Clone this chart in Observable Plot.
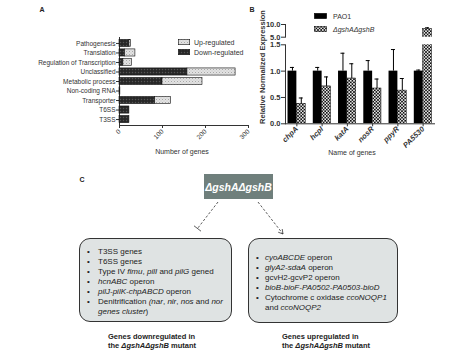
<!DOCTYPE html>
<html>
<head>
<meta charset="utf-8">
<script src="https://cdn.jsdelivr.net/npm/d3@7"></script>
<script src="https://cdn.jsdelivr.net/npm/@observablehq/plot@0.6"></script>
<style>
  html, body { margin: 0; padding: 0; background: #fff; }
  #fig { position: relative; width: 474px; height: 358px; overflow: hidden; background: #fff;
         font-family: "Liberation Sans", Arial, sans-serif; color: #222; }
  .abs { position: absolute; }
  .plotwrap svg { overflow: visible; }
  .lab { position: absolute; font-weight: bold; font-size: 7px; transform: translate(-50%, -50%); }
  .ttl { position: absolute; font-size: 7px; transform: translate(-50%, -50%); white-space: nowrap; color: #333; }
  .leg { position: absolute; font-size: 7px; white-space: nowrap; color: #333; display: flex; align-items: center; }
  .leg svg { margin-right: 4px; }
  #pb svg g[aria-label="x-axis tick label"] text { font-style: italic; font-weight: bold; }
  #pb svg g[aria-label="y-axis tick label"] text, #pbu svg g[aria-label="y-axis tick label"] text { font-weight: bold; }
  .box { position: absolute; border: 1px solid #333; border-radius: 11px; background: #dfe3e3; box-sizing: border-box; }
  .list { position: absolute; font-size: 8px; line-height: 10px; white-space: nowrap; color: #222; }
  .li { position: relative; }
  .bul { position: absolute; }
  .cap { position: absolute; font-size: 7.5px; line-height: 9px; font-weight: bold; white-space: nowrap; color: #222; }
  .top { position: absolute; left: 204px; top: 174px; width: 69px; height: 25px; background: #6f7f7c;
         color: #fff; font-weight: bold; font-style: italic; font-size: 10.5px;
         display: flex; align-items: center; justify-content: center; }
</style>
</head>
<body>
<svg width="0" height="0" style="position:absolute">
  <defs>
    <pattern id="pa-dark" width="3" height="3" patternUnits="userSpaceOnUse">
      <rect width="3" height="3" fill="#2e2e2e"/>
      <rect x="0" y="0" width="1" height="1" fill="#555"/>
      <rect x="1.5" y="1.5" width="1" height="1" fill="#111"/>
    </pattern>
    <pattern id="pa-light" width="3" height="3" patternUnits="userSpaceOnUse">
      <rect width="3" height="3" fill="#e2e2e2"/>
      <rect x="0" y="0" width="1" height="1" fill="#a8a8a8"/>
      <rect x="1.5" y="1.5" width="1" height="1" fill="#c4c4c4"/>
    </pattern>
    <pattern id="pb-check" width="3.2" height="3.2" patternUnits="userSpaceOnUse">
      <rect width="3.2" height="3.2" fill="#e8e8e8"/>
      <rect x="0" y="0" width="1.6" height="1.6" fill="#111"/>
      <rect x="1.6" y="1.6" width="1.6" height="1.6" fill="#111"/>
    </pattern>
  </defs>
</svg>
<div id="fig">
  <div class="lab" style="left:42px;top:9px">A</div>
  <div class="lab" style="left:252px;top:9px">B</div>
  <div class="lab" style="left:82px;top:179px">C</div>

  <div id="pa" class="abs plotwrap" style="left:0;top:0"></div>
  <div id="pbu" class="abs plotwrap" style="left:230px;top:0"></div>
  <div id="pb" class="abs plotwrap" style="left:230px;top:0"></div>

  <div class="ttl" style="left:182px;top:151px">Number of genes</div>
  <div class="ttl" style="left:352px;top:152px">Name of genes</div>
  <div class="ttl" style="left:262px;top:67px;transform:translate(-50%,-50%) rotate(-90deg);font-weight:bold;font-size:7.5px">Relative Normalized Expression</div>

  <div id="legA"></div>
  <div id="legB"></div>

  <div class="top">ΔgshAΔgshB</div>
  <svg class="abs" style="left:0;top:0" width="474" height="358">
    <g stroke="#333" stroke-width="0.8" fill="none">
      <line x1="218" y1="202" x2="197.5" y2="228.5" stroke-dasharray="2.5,1.8"/>
      <line x1="194" y1="225.8" x2="201" y2="231.2"/>
      <line x1="258" y1="202" x2="283" y2="234" stroke-dasharray="2.5,1.8"/>
      <polyline points="278.2,232.2 283,234 282.2,229"/>
    </g>
  </svg>

  <div class="box" style="left:79px;top:238px;width:153px;height:84px"></div>
  <div class="box" style="left:248px;top:238px;width:150px;height:85px"></div>

  <div class="list" style="left:98px;top:247px">
    <div class="li"><span class="bul" style="left:-11px">•</span>T3SS genes</div>
    <div class="li"><span class="bul" style="left:-11px">•</span>T6SS genes</div>
    <div class="li"><span class="bul" style="left:-11px">•</span>Type IV <i>fimu</i>, <i>pilI</i> and <i>pilG</i> gened</div>
    <div class="li"><span class="bul" style="left:-11px">•</span><i>hcnABC</i> operon</div>
    <div class="li"><span class="bul" style="left:-11px">•</span><i>pilJ-pilK-chpABCD</i> operon</div>
    <div class="li"><span class="bul" style="left:-11px">•</span>Denitrification <i>(nar</i>, <i>nir</i>, <i>nos</i> and <i>nor</i><br><i>genes cluster</i>)</div>
  </div>
  <div class="list" style="left:265px;top:253px">
    <div class="li"><span class="bul" style="left:-9px">•</span><i>cyoABCDE</i> operon</div>
    <div class="li"><span class="bul" style="left:-9px">•</span><i>glyA2-sdaA</i> operon</div>
    <div class="li"><span class="bul" style="left:-9px">•</span>gcvH2-gcvP2 operon</div>
    <div class="li"><span class="bul" style="left:-9px">•</span><i>bioB-bioF-PA0502-PA0503-bioD</i></div>
    <div class="li"><span class="bul" style="left:-9px">•</span>Cytochrome c oxidase <i>ccoNOQP1</i><br>and <i>ccoNOQP2</i></div>
  </div>

  <div class="cap" style="left:108px;top:331.5px">Genes downregulated in<br>the <i>ΔgshAΔgshB</i> mutant</div>
  <div class="cap" style="left:282px;top:331.5px">Genes upregulated in<br>the <i>ΔgshAΔgshB</i> mutant</div>
</div>
<script>
// ---------- Panel A data ----------
const categories = ["Pathogenesis", "Translation", "Regulation of Transcription", "Unclassified",
  "Metabolic process", "Non-coding RNA", "Transporter", "T6SS", "T3SS"];
const downRegulated = [23, 13, 9, 158, 100, 2, 83, 23, 23];
const upRegulated = [4, 24, 20, 112, 93, 0, 37, 0, 0];
const seriesA = ["Down-regulated", "Up-regulated"];
const legendA = ["Up-regulated", "Down-regulated"];
const ticksA = [0, 100, 200, 300];

// ---------- Panel B data ----------
const genes = ["chpA", "hcpI", "katA", "nosR", "ppyR", "PA5530"];
const pao1 = [1.0, 1.0, 1.0, 1.0, 1.0, 1.0];
const pao1Err = [0.07, 0.07, 0.34, 0.2, 0.41, 0.02];
const mutant = [0.38, 0.71, 0.86, 0.67, 0.63, 8.2];
const mutantErr = [0.11, 0.18, 0.28, 0.18, 0.23, 0.5];
const seriesB = ["PAO1", "ΔgshAΔgshB"];
const ticksLow = [0, 0.5, 1.0, 1.5];
const ticksHigh = [5, 10];

const FONT = '"Liberation Sans", Arial, sans-serif';

// ---------- Panel A ----------
const dataA = categories.flatMap((c, i) => [
  {cat: c, series: seriesA[0], n: downRegulated[i]},
  {cat: c, series: seriesA[1], n: upRegulated[i]}
]).filter(d => d.n > 0);

const plotA = Plot.plot({
  width: 260, height: 160,
  marginLeft: 119, marginRight: 12, marginTop: 37, marginBottom: 35,
  style: {fontFamily: FONT, fontSize: "6.5px", background: "transparent", color: "#333"},
  x: {domain: [0, 300], ticks: ticksA, line: true, tickSize: 3, tickPadding: 2, tickRotate: -45, label: null},
  y: {domain: categories, padding: 0.25, round: false, line: true, tickSize: 3, tickPadding: 1, label: null},
  color: {domain: seriesA, range: ["url(#pa-dark)", "url(#pa-light)"]},
  marks: [
    Plot.barX(dataA, Plot.stackX({x: "n", y: "cat", fill: "series", order: seriesA, stroke: "#111", strokeWidth: 0.6}))
  ]
});
document.getElementById("pa").appendChild(plotA);

// legend A
const legAHost = document.getElementById("legA");
legendA.forEach((s, i) => {
  const d = document.createElement("div");
  d.className = "leg";
  d.style.left = "178px";
  d.style.top = (38 + i * 10) + "px";
  d.style.height = "8px";
  const pat = s === seriesA[0] ? "url(#pa-dark)" : "url(#pa-light)";
  d.innerHTML = `<svg width="12" height="6"><rect x="0.3" y="0.3" width="11.4" height="5.4" fill="${pat}" stroke="#111" stroke-width="0.6"/></svg><span>${s}</span>`;
  legAHost.appendChild(d);
});

// ---------- Panel B ----------
const W = 244, ML = 55, MR = 40;
const PI = 0.3, PO = 0.1;
const rangeLen = W - ML - MR;
const step = rangeLen / (genes.length - PI + 2 * PO);
const bw = step * (1 - PI);
const half = bw / 2, quarter = bw / 4, capW = 4;

const dataB = genes.map((g, i) => ({gene: g, p: pao1[i], pe: pao1Err[i], m: mutant[i], me: mutantErr[i]}));

function marksB() {
  return [
    Plot.barY(dataB, {x: "gene", y: "p", fill: "#000", insetRight: half, clip: true}),
    Plot.barY(dataB, {x: "gene", y: "m", fill: "url(#pb-check)", stroke: "#000", strokeWidth: 0.5, insetLeft: half, clip: true}),
    Plot.ruleX(dataB, {x: "gene", y1: "p", y2: d => d.p + d.pe, dx: -quarter, stroke: "#000", strokeWidth: 1, clip: true}),
    Plot.tickY(dataB, {x: "gene", y: d => d.p + d.pe, insetLeft: quarter - capW / 2, insetRight: bw - quarter - capW / 2, stroke: "#000", strokeWidth: 1, clip: true}),
    Plot.ruleX(dataB, {x: "gene", y1: "m", y2: d => d.m + d.me, dx: quarter, stroke: "#000", strokeWidth: 1, clip: true}),
    Plot.tickY(dataB, {x: "gene", y: d => d.m + d.me, insetLeft: bw - quarter - capW / 2, insetRight: quarter - capW / 2, stroke: "#000", strokeWidth: 1, clip: true})
  ];
}

const xB = {domain: genes, paddingInner: PI, paddingOuter: PO, round: false, label: null};

const plotB = Plot.plot({
  width: W, height: 160,
  marginLeft: ML, marginRight: MR, marginTop: 44.3, marginBottom: 36.7,
  style: {fontFamily: FONT, fontSize: "7.5px", background: "transparent", color: "#333"},
  x: {...xB, line: true, tickSize: 3, tickPadding: 1, tickRotate: -45},
  y: {domain: [0, 1.5], ticks: ticksLow, tickFormat: d3.format(".1f"), line: true, tickSize: 4, tickPadding: 1, label: null},
  marks: marksB()
});
document.getElementById("pb").appendChild(plotB);

const plotBU = Plot.plot({
  width: W, height: 40,
  marginLeft: ML, marginRight: MR, marginTop: 24, marginBottom: 3.3,
  style: {fontFamily: FONT, fontSize: "7.5px", background: "transparent", color: "#333"},
  x: {...xB, axis: null},
  y: {domain: [5, 10], ticks: ticksHigh, line: true, tickSize: 4, tickPadding: 1, label: null},
  marks: marksB()
});
document.getElementById("pbu").appendChild(plotBU);

// legend B
const legBHost = document.getElementById("legB");
seriesB.forEach((s, i) => {
  const d = document.createElement("div");
  d.className = "leg";
  d.style.left = "314px";
  d.style.top = (12 + i * 13) + "px";
  d.style.height = "8px";
  const fill = i === 0 ? "#000" : "url(#pb-check)";
  d.innerHTML = `<svg width="13" height="6" style="margin-right:6px"><rect x="0.3" y="0.3" width="12.4" height="5.4" fill="${fill}" stroke="#000" stroke-width="0.5"/></svg><span style="${i === 1 ? "font-style:italic" : ""}">${s}</span>`;
  legBHost.appendChild(d);
});
</script>
</body>
</html>
